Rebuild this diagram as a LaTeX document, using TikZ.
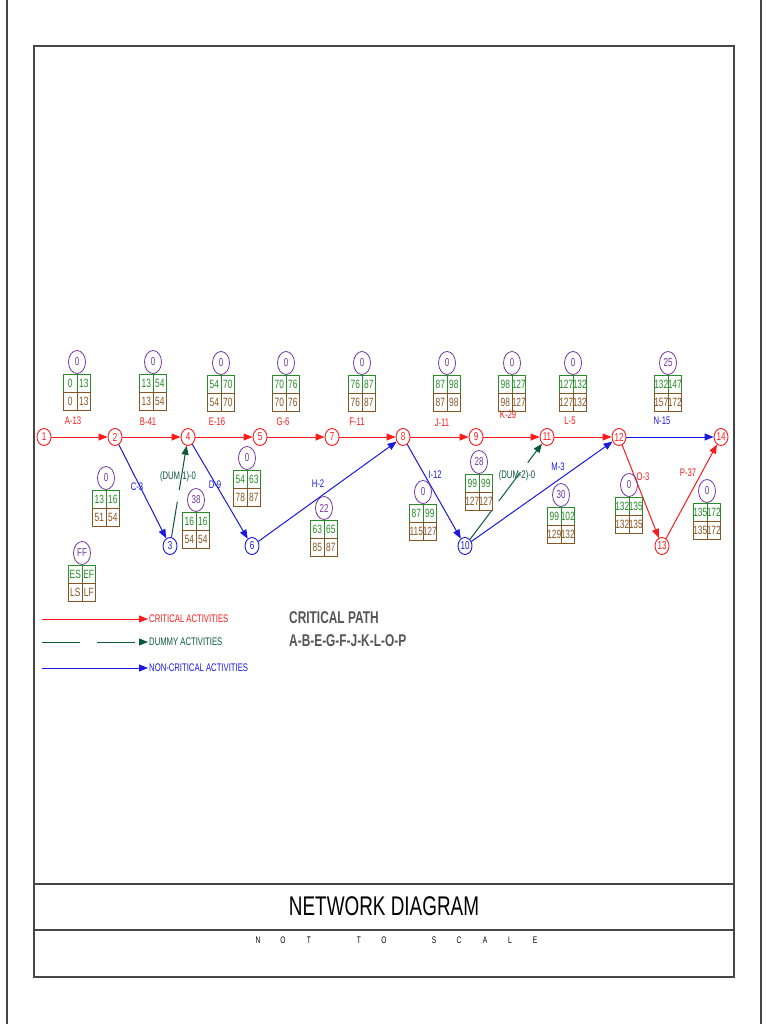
\documentclass[tikz,border=0pt]{standalone}
\usepackage{fontspec}
\setmainfont{Liberation Sans}
\newfontfamily\nar[FakeStretch=0.7]{Liberation Sans}
\usetikzlibrary{arrows.meta,shapes.geometric}
\definecolor{cred}{RGB}{255,25,25}
\definecolor{cblue}{RGB}{25,25,225}
\definecolor{cdum}{RGB}{10,90,55}
\definecolor{cgrn}{RGB}{40,140,40}
\definecolor{cbrn}{RGB}{135,85,35}
\definecolor{cpur}{RGB}{115,55,160}
\definecolor{cframe}{RGB}{70,70,70}
\definecolor{cgray}{RGB}{85,85,85}
\newcommand\ibox[8]{%
  \node[flt] (#1f) at (#2,#3-12) {#4};
  \draw[cgrn,line width=0.8pt] (#2-13.5,#3) rectangle (#2+13.5,#3+18) (#2,#3) -- (#2,#3+18);
  \draw[cbrn,line width=0.8pt] (#2-13.5,#3+18) rectangle (#2+13.5,#3+36) (#2,#3+18) -- (#2,#3+36);
  \node[gnum] (#1es) at (#2-6.75,#3+9) {#5};
  \node[gnum] (#1ef) at (#2+6.75,#3+9) {#6};
  \node[bnum] (#1ls) at (#2-6.75,#3+27) {#7};
  \node[bnum] (#1lf) at (#2+6.75,#3+27) {#8};
}
\begin{document}
\begin{tikzpicture}[x=1pt,y=-1pt,
  ev/.style={ellipse,line width=0.9pt,minimum width=14pt,minimum height=17pt,inner sep=0pt,font=\nar\fontsize{11.5}{11.5}\selectfont},
  evr/.style={ev,draw=cred,text=cred},
  evb/.style={ev,draw=cblue,text=cblue},
  tip/.style={-{Triangle[length=9pt,width=7pt]}},
  critical/.style={draw=cred,line width=1pt,tip},
  noncrit/.style={draw=cblue,line width=1pt,tip},
  dummy/.style={draw=cdum,line width=1pt,dash pattern=on 36pt off 12pt,tip},
  lab/.style={font=\nar\fontsize{11}{11}\selectfont,inner sep=0pt},
  labr/.style={lab,text=cred},
  labb/.style={lab,text=cblue},
  labd/.style={lab,text=cdum},
  flt/.style={ellipse,draw=cpur,text=cpur,line width=0.8pt,minimum width=17pt,minimum height=23pt,inner sep=0pt,font=\nar\fontsize{11.5}{11.5}\selectfont},
  gnum/.style={inner sep=0pt,text=cgrn,font=\nar\fontsize{12}{12}\selectfont},
  bnum/.style={inner sep=0pt,text=cbrn,font=\nar\fontsize{12}{12}\selectfont},
  frame/.style={draw=cframe,line width=1.3pt},
  legtxt/.style={inner sep=0pt,anchor=west,font=\nar\fontsize{11}{11}\selectfont},
  ltr/.style={inner sep=0pt,font=\nar\fontsize{9.5}{9.5}\selectfont}
]
\useasboundingbox (0,0) rectangle (768,1024);
\fill[white] (0,0) rectangle (768,1024);
% frame
\draw[frame] (7,0) -- (7,1024);
\draw[frame] (761,0) -- (761,1024);
\draw[frame] (34,46) rectangle (734,977);
\draw[frame] (34,884) -- (734,884);
\draw[frame] (34,930) -- (734,930);
% title
\node[inner sep=0pt,font=\nar\fontsize{27}{27}\selectfont] (title) at (384,906) {NETWORK DIAGRAM};
\foreach \l/\x [count=\i] in {N/258,O/283,T/309,T/359,O/384,S/434,C/459,A/485,L/510,E/535}
  \node[ltr] (nts\i) at (\x,940) {\l};
% events
\node[evr] (n1) at (44,437) {1};
\node[evr] (n2) at (115,437) {2};
\node[evr] (n4) at (188,437) {4};
\node[evr] (n5) at (260,437) {5};
\node[evr] (n7) at (332,437) {7};
\node[evr] (n8) at (403,437) {8};
\node[evr] (n9) at (476,437) {9};
\node[evr] (n11) at (547,437) {11};
\node[evr] (n12) at (619,437) {12};
\node[evr] (n14) at (721,437) {14};
\node[evb] (n3) at (170,546) {3};
\node[evb] (n6) at (252,546) {6};
\node[evb] (n10) at (465,546) {10};
\node[evr] (n13) at (662,546) {13};
% activities
\draw[critical] (n1) -- (n2);
\draw[critical] (n2) -- (n4);
\draw[critical] (n4) -- (n5);
\draw[critical] (n5) -- (n7);
\draw[critical] (n7) -- (n8);
\draw[critical] (n8) -- (n9);
\draw[critical] (n9) -- (n11);
\draw[critical] (n11) -- (n12);
\draw[noncrit] (n12) -- (n14);
\draw[critical] (n12) -- (n13);
\draw[critical] (n13) -- (n14);
\draw[noncrit] (n2) -- (n3);
\draw[dummy] (n3) -- (n4);
\draw[noncrit] (n4) -- (n6);
\draw[noncrit] (n6) -- (n8);
\draw[noncrit] (n8) -- (n10);
\draw[dummy] (n10) -- (n11);
\draw[noncrit] (n10) -- (n12);
% activity labels
\node[labr] (lA) at (73,421) {A-13};
\node[labr] (lB) at (148,422) {B-41};
\node[labr] (lE) at (217,422) {E-16};
\node[labr] (lG) at (283,422) {G-6};
\node[labr] (lF) at (357,422) {F-11};
\node[labr] (lJ) at (442,423) {J-11};
\node[labr] (lK) at (508,415) {K-29};
\node[labr] (lL) at (570,421) {L-5};
\node[labb] (lN) at (662,421) {N-15};
\node[labb] (lC) at (137,487) {C-3};
\node[labd] (lD1) at (178,477) {(DUM 1)-0};
\node[labb] (lD) at (215,485) {D-9};
\node[labb] (lH) at (318,484) {H-2};
\node[labb] (lI) at (435,475) {I-12};
\node[labd] (lD2) at (517,476) {(DUM-2)-0};
\node[labb] (lM) at (558,467) {M-3};
\node[labr] (lO) at (643,477) {O-3};
\node[labr] (lP) at (688,473) {P-37};
% info boxes
\ibox{bA}{77}{374}{0}{0}{13}{0}{13}
\ibox{bB}{153}{374}{0}{13}{54}{13}{54}
\ibox{bE}{221}{375}{0}{54}{70}{54}{70}
\ibox{bG}{286}{375}{0}{70}{76}{70}{76}
\ibox{bF}{362}{375}{0}{76}{87}{76}{87}
\ibox{bJ}{447}{375}{0}{87}{98}{87}{98}
\ibox{bK}{512}{375}{0}{98}{127}{98}{127}
\ibox{bL}{573}{375}{0}{127}{132}{127}{132}
\ibox{bN}{668}{375}{25}{132}{147}{157}{172}
\ibox{bC}{106}{490}{0}{13}{16}{51}{54}
\ibox{bT}{196}{512}{38}{16}{16}{54}{54}
\ibox{bD}{247}{470}{0}{54}{63}{78}{87}
\ibox{bH}{324}{520}{22}{63}{65}{85}{87}
\ibox{bI}{423}{504}{0}{87}{99}{115}{127}
\ibox{bQ}{479}{474}{28}{99}{99}{127}{127}
\ibox{bM}{561}{507}{30}{99}{102}{129}{132}
\ibox{bO}{629}{497}{0}{132}{135}{132}{135}
\ibox{bP}{707}{503}{0}{135}{172}{135}{172}
\ibox{bX}{82}{565}{FF}{ES}{EF}{LS}{LF}
% legend
\coordinate (lg1a) at (42,619); \coordinate (lg1b) at (148,619);
\coordinate (lg2a) at (42,642); \coordinate (lg2b) at (148,642);
\coordinate (lg3a) at (42,668); \coordinate (lg3b) at (148,668);
\draw[critical] (lg1a) -- (lg1b);
\draw[dummy,dash pattern=on 38pt off 17pt] (lg2a) -- (lg2b);
\draw[noncrit] (lg3a) -- (lg3b);
\node[legtxt,text=cred] (t1) at (149,619) {CRITICAL ACTIVITIES};
\node[legtxt,text=cdum] (t2) at (149,642) {DUMMY ACTIVITIES};
\node[legtxt,text=cblue] (t3) at (149,668) {NON-CRITICAL ACTIVITIES};
\node[inner sep=0pt,anchor=west,text=cgray,font=\nar\bfseries\fontsize{17}{17}\selectfont] (cp1) at (289,618) {CRITICAL PATH};
\node[inner sep=0pt,anchor=west,text=cgray,font=\nar\bfseries\fontsize{17}{17}\selectfont] (cp2) at (289,641) {A-B-E-G-F-J-K-L-O-P};
\end{tikzpicture}
\end{document}
